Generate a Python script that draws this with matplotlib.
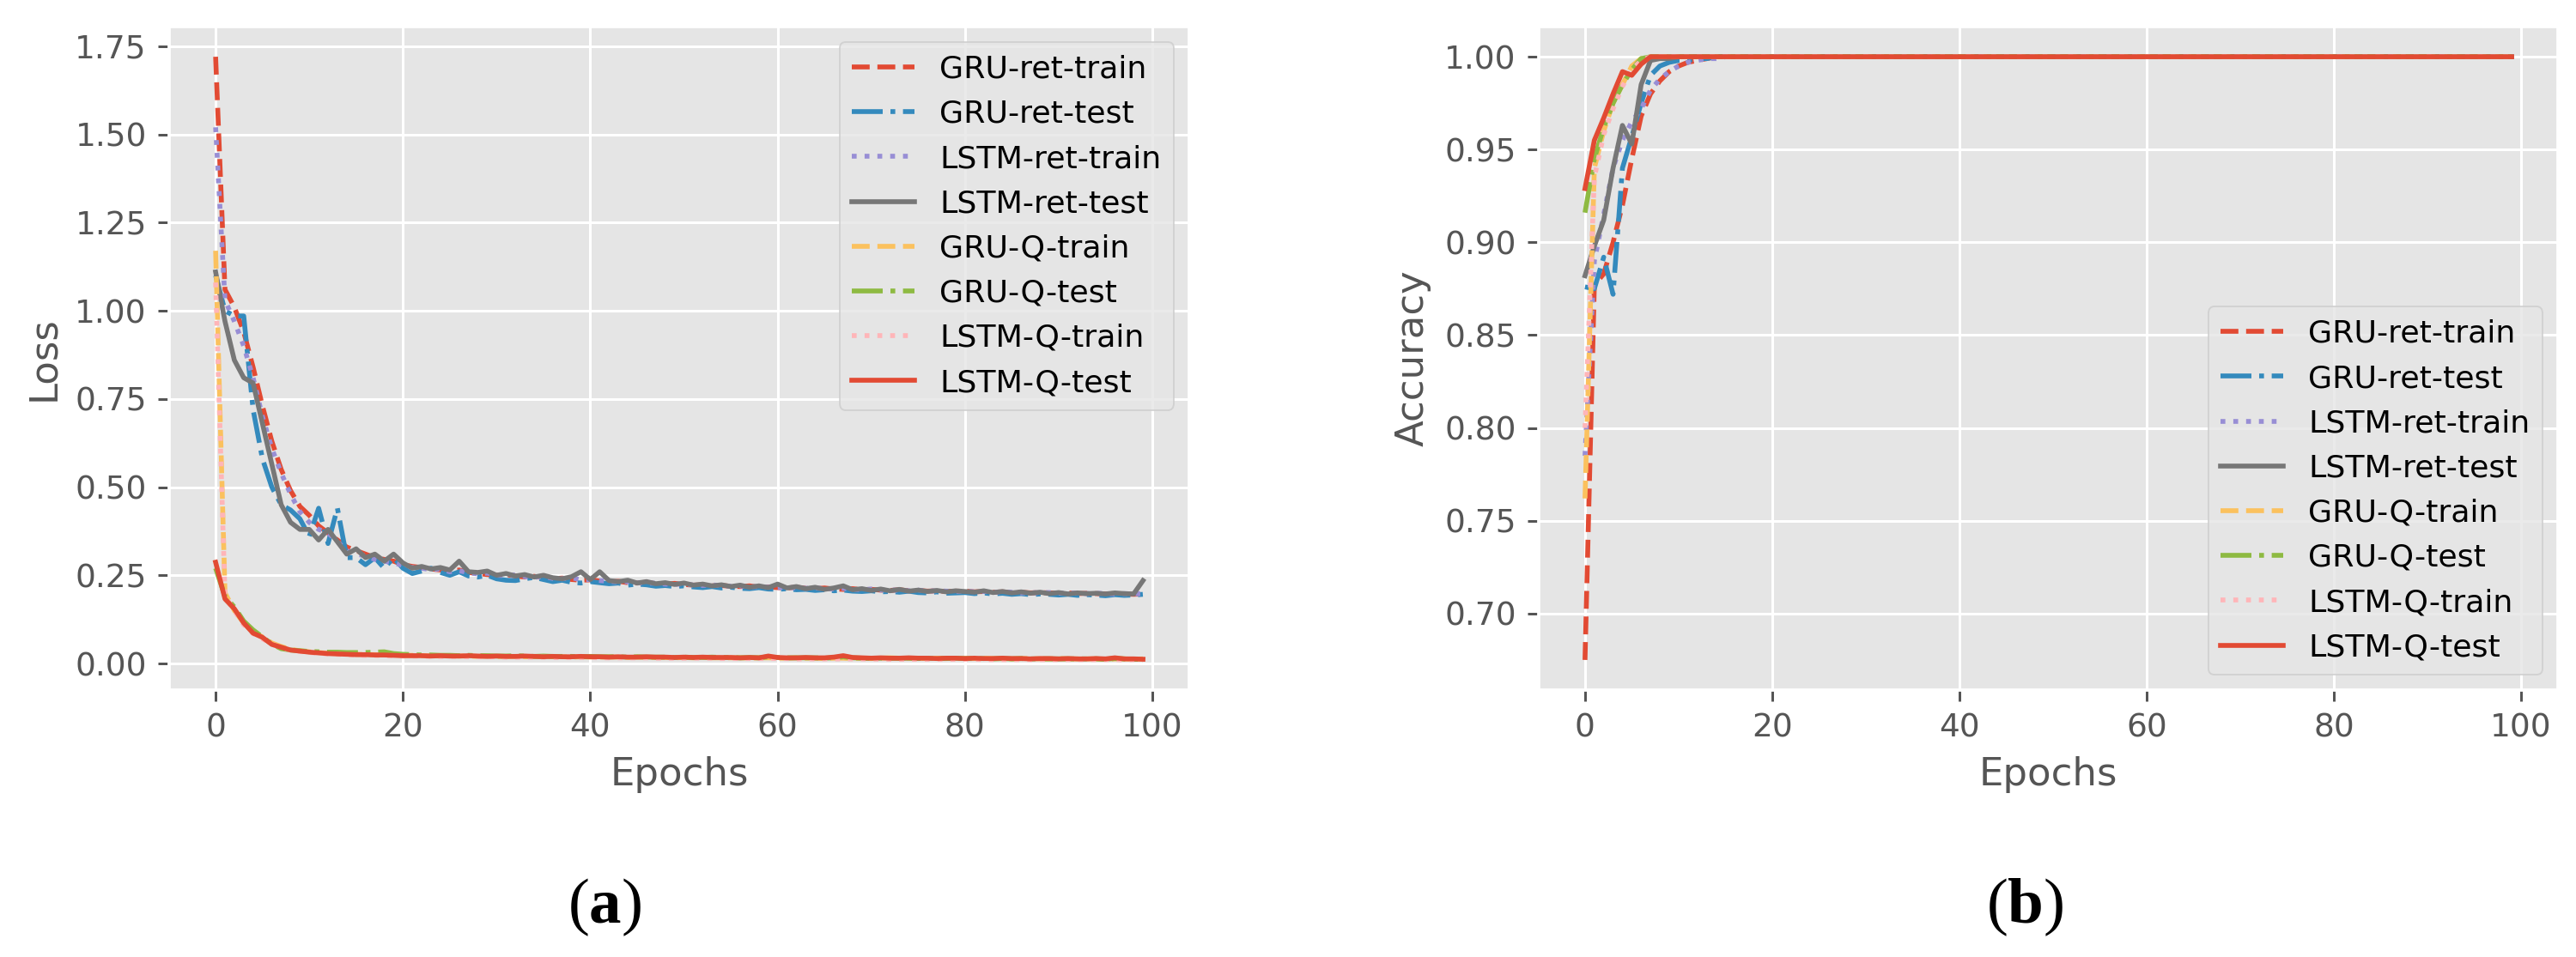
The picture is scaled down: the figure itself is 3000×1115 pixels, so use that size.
import matplotlib
matplotlib.use("Agg")
import matplotlib.pyplot as plt

plt.style.use("ggplot")
plt.rcParams["mathtext.fontset"] = "custom"
plt.rcParams["mathtext.bf"] = "Liberation Serif:bold"
plt.rcParams["legend.fontsize"] = 9.7

epochs = list(range(100))
names = ["GRU-ret-train", "GRU-ret-test", "LSTM-ret-train", "LSTM-ret-test",
         "GRU-Q-train", "GRU-Q-test", "LSTM-Q-train", "LSTM-Q-test"]

# ---- loss (a) ----
loss_gru_ret_train = [
    1.72, 1.06, 1.01, 0.94, 0.84, 0.73, 0.63, 0.55, 0.49, 0.445, 0.42, 0.39, 0.37, 0.35, 0.33, 0.32, 0.31, 0.30, 0.295, 0.29, 0.28,
    0.275, 0.272, 0.268, 0.265, 0.262, 0.265, 0.258, 0.255, 0.252, 0.25, 0.252, 0.248, 0.245, 0.247, 0.243, 0.24, 0.242, 0.238, 0.236, 0.237,
    0.234, 0.232, 0.233, 0.229, 0.228, 0.23, 0.226, 0.225, 0.227, 0.224, 0.222, 0.223, 0.22, 0.221, 0.219, 0.218, 0.22, 0.216, 0.217, 0.215,
    0.214, 0.216, 0.213, 0.212, 0.214, 0.211, 0.21, 0.212, 0.209, 0.21, 0.208, 0.207, 0.209, 0.206, 0.207, 0.205, 0.206, 0.204, 0.205, 0.205,
    0.203, 0.204, 0.202, 0.203, 0.201, 0.202, 0.2, 0.201, 0.2, 0.199, 0.2, 0.198, 0.199, 0.198, 0.197, 0.198, 0.197, 0.196, 0.197]
loss_gru_ret_test = [
    1.10, 1.00, 0.985, 0.985, 0.72, 0.58, 0.50, 0.45, 0.435, 0.41, 0.36, 0.44, 0.34, 0.44, 0.30, 0.30, 0.28, 0.30, 0.27, 0.30, 0.27,
    0.255, 0.262, 0.27, 0.258, 0.25, 0.26, 0.248, 0.245, 0.25, 0.24, 0.236, 0.235, 0.24, 0.244, 0.238, 0.232, 0.236, 0.23, 0.228, 0.232,
    0.229, 0.226, 0.228, 0.222, 0.225, 0.223, 0.219, 0.221, 0.218, 0.22, 0.217, 0.215, 0.218, 0.214, 0.216, 0.213, 0.212, 0.215, 0.211, 0.21,
    0.212, 0.209, 0.21, 0.207, 0.209, 0.206, 0.208, 0.205, 0.204, 0.206, 0.203, 0.204, 0.202, 0.205, 0.201, 0.2, 0.203, 0.199, 0.2, 0.201,
    0.198, 0.2, 0.197, 0.199, 0.196, 0.198, 0.195, 0.197, 0.196, 0.194, 0.196, 0.193, 0.195, 0.194, 0.192, 0.195, 0.193, 0.194, 0.196]
loss_lstm_ret_train = [
    1.52, 1.03, 0.97, 0.90, 0.81, 0.70, 0.61, 0.54, 0.48, 0.43, 0.40, 0.38, 0.37, 0.345, 0.32, 0.31, 0.305, 0.295, 0.29, 0.285, 0.278,
    0.272, 0.27, 0.266, 0.268, 0.26, 0.263, 0.257, 0.254, 0.256, 0.25, 0.249, 0.251, 0.246, 0.244, 0.247, 0.241, 0.24, 0.243, 0.237, 0.238,
    0.235, 0.233, 0.231, 0.232, 0.229, 0.227, 0.228, 0.225, 0.224, 0.226, 0.222, 0.221, 0.223, 0.22, 0.219, 0.22, 0.217, 0.218, 0.216, 0.215,
    0.216, 0.214, 0.213, 0.214, 0.212, 0.211, 0.213, 0.21, 0.209, 0.211, 0.208, 0.209, 0.207, 0.206, 0.208, 0.205, 0.206, 0.205, 0.204, 0.205,
    0.203, 0.204, 0.202, 0.203, 0.202, 0.2, 0.201, 0.2, 0.201, 0.199, 0.2, 0.199, 0.198, 0.199, 0.198, 0.197, 0.198, 0.197, 0.198]
loss_lstm_ret_test = [
    1.11, 0.97, 0.86, 0.81, 0.795, 0.68, 0.565, 0.45, 0.40, 0.38, 0.38, 0.35, 0.38, 0.345, 0.31, 0.325, 0.30, 0.31, 0.29, 0.31, 0.285,
    0.27, 0.275, 0.268, 0.272, 0.265, 0.29, 0.26, 0.258, 0.262, 0.25, 0.255, 0.248, 0.252, 0.245, 0.25, 0.243, 0.24, 0.246, 0.26, 0.238,
    0.26, 0.235, 0.232, 0.236, 0.228, 0.232, 0.226, 0.229, 0.224, 0.228, 0.222, 0.225, 0.22, 0.223, 0.218, 0.222, 0.216, 0.22, 0.215, 0.225,
    0.214, 0.218, 0.212, 0.216, 0.21, 0.214, 0.22, 0.209, 0.212, 0.207, 0.211, 0.206, 0.21, 0.205, 0.208, 0.204, 0.207, 0.203, 0.206, 0.204,
    0.202, 0.206, 0.201, 0.204, 0.2, 0.203, 0.199, 0.202, 0.198, 0.201, 0.197, 0.2, 0.198, 0.199, 0.197, 0.2, 0.198, 0.197, 0.235]
loss_gru_q_train = [
    1.17, 0.20, 0.15, 0.115, 0.09, 0.075, 0.058, 0.048, 0.04, 0.036, 0.033, 0.031, 0.029, 0.028, 0.027, 0.026, 0.025, 0.025, 0.024, 0.024, 0.023,
    0.023, 0.022, 0.022, 0.021, 0.022, 0.021, 0.021, 0.02, 0.021, 0.02,
    0.02, 0.02, 0.019, 0.02, 0.019, 0.019, 0.019, 0.018, 0.019, 0.018,
    0.018, 0.018, 0.018, 0.017, 0.018, 0.017, 0.017, 0.017, 0.016, 0.017,
    0.016, 0.017, 0.016, 0.016, 0.016, 0.016, 0.015, 0.016, 0.016, 0.015,
    0.015, 0.016, 0.015, 0.015, 0.014, 0.015, 0.015, 0.014, 0.015, 0.014,
    0.015, 0.016, 0.015, 0.015, 0.015, 0.014, 0.015, 0.015, 0.014, 0.014,
    0.014, 0.015, 0.014, 0.014, 0.013, 0.014, 0.014, 0.013, 0.013, 0.014,
    0.013, 0.013, 0.013, 0.013, 0.012, 0.013, 0.013, 0.012, 0.013]
loss_gru_q_test = [
    0.27, 0.19, 0.16, 0.12, 0.095, 0.075, 0.055, 0.042, 0.038, 0.036, 0.034, 0.033, 0.032, 0.032, 0.031, 0.031, 0.031, 0.032, 0.033, 0.028, 0.026,
    0.025, 0.024, 0.024, 0.023, 0.023, 0.022, 0.023, 0.022, 0.022, 0.021,
    0.021, 0.022, 0.021, 0.02, 0.021, 0.02, 0.02, 0.02, 0.019, 0.02,
    0.019, 0.019, 0.019, 0.018, 0.019, 0.018, 0.018, 0.018, 0.017, 0.018,
    0.017, 0.017, 0.018, 0.017, 0.017, 0.016, 0.017, 0.016, 0.019, 0.017,
    0.016, 0.016, 0.016, 0.016, 0.015, 0.016, 0.019, 0.016, 0.015, 0.015,
    0.015, 0.015, 0.015, 0.015, 0.014, 0.015, 0.014, 0.014, 0.015, 0.014,
    0.014, 0.014, 0.013, 0.014, 0.013, 0.014, 0.013, 0.013, 0.013, 0.013,
    0.013, 0.013, 0.013, 0.013, 0.012, 0.014, 0.013, 0.012, 0.012]
loss_lstm_q_train = [
    1.08, 0.19, 0.15, 0.11, 0.085, 0.07, 0.055, 0.045, 0.038, 0.034, 0.031, 0.029, 0.027, 0.026, 0.025, 0.024, 0.023, 0.023, 0.022, 0.022, 0.021,
    0.021, 0.021, 0.02, 0.02, 0.02, 0.02, 0.019, 0.019, 0.019, 0.019,
    0.018, 0.018, 0.018, 0.018, 0.018, 0.017, 0.017, 0.017, 0.017, 0.017,
    0.016, 0.016, 0.016, 0.016, 0.016, 0.016, 0.015, 0.015, 0.015, 0.015,
    0.015, 0.015, 0.015, 0.014, 0.014, 0.014, 0.014, 0.014, 0.014, 0.014,
    0.014, 0.013, 0.013, 0.013, 0.013, 0.013, 0.013, 0.013, 0.013, 0.013,
    0.012, 0.012, 0.012, 0.012, 0.012, 0.012, 0.012, 0.012, 0.012, 0.012,
    0.012, 0.011, 0.011, 0.011, 0.011, 0.011, 0.011, 0.011, 0.011, 0.011,
    0.011, 0.011, 0.011, 0.011, 0.011, 0.011, 0.01, 0.011, 0.01]
loss_lstm_q_test = [
    0.287, 0.183, 0.155, 0.115, 0.086, 0.074, 0.054, 0.046, 0.038, 0.035, 0.032, 0.030, 0.028, 0.027, 0.026, 0.025, 0.025, 0.024, 0.024, 0.023, 0.022,
    0.022, 0.022, 0.021, 0.022, 0.021, 0.021, 0.022, 0.021, 0.02, 0.021,
    0.02, 0.02, 0.021, 0.02, 0.019, 0.02, 0.019, 0.019, 0.02, 0.019,
    0.019, 0.018, 0.019, 0.018, 0.018, 0.019, 0.018, 0.018, 0.017, 0.018,
    0.017, 0.018, 0.017, 0.017, 0.017, 0.016, 0.017, 0.016, 0.021, 0.017,
    0.016, 0.016, 0.017, 0.016, 0.016, 0.018, 0.022, 0.017, 0.016, 0.015,
    0.016, 0.015, 0.015, 0.016, 0.015, 0.015, 0.014, 0.015, 0.015, 0.014,
    0.015, 0.014, 0.014, 0.015, 0.014, 0.014, 0.013, 0.014, 0.014, 0.013,
    0.014, 0.013, 0.013, 0.014, 0.013, 0.016, 0.013, 0.013, 0.012]

# ---- accuracy (b) ----
acc_gru_ret_train = [0.675, 0.877, 0.883, 0.90, 0.92, 0.945, 0.968, 0.98, 0.987, 0.992,
                     0.995, 0.997, 0.998, 0.999, 1.0] + [1.0] * 85
acc_gru_ret_test = [0.876, 0.875, 0.892, 0.872, 0.94, 0.957, 0.975, 0.99, 0.995, 0.997,
                    0.998, 0.998, 0.999, 0.999, 1.0] + [1.0] * 85
acc_lstm_ret_train = [0.785, 0.89, 0.915, 0.94, 0.955, 0.965, 0.972, 0.982, 0.988, 0.992,
                      0.995, 0.997, 0.998, 0.999, 0.999, 1.0] + [1.0] * 84
acc_lstm_ret_test = [0.882, 0.898, 0.912, 0.94, 0.963, 0.953, 0.985, 0.998, 0.999, 0.999,
                     1.0] + [1.0] * 89
acc_gru_q_train = [0.762, 0.94, 0.96, 0.975, 0.985, 0.995, 0.999, 1.0] + [1.0] * 92
acc_gru_q_test = [0.916, 0.945, 0.962, 0.975, 0.985, 0.993, 0.999, 1.0] + [1.0] * 92
acc_lstm_q_train = [0.80, 0.935, 0.958, 0.972, 0.984, 0.993, 0.998, 1.0] + [1.0] * 92
acc_lstm_q_test = [0.929, 0.955, 0.967, 0.980, 0.992, 0.990, 0.996, 1.0] + [1.0] * 92

loss_series = [loss_gru_ret_train, loss_gru_ret_test, loss_lstm_ret_train, loss_lstm_ret_test,
               loss_gru_q_train, loss_gru_q_test, loss_lstm_q_train, loss_lstm_q_test]
acc_series = [acc_gru_ret_train, acc_gru_ret_test, acc_lstm_ret_train, acc_lstm_ret_test,
              acc_gru_q_train, acc_gru_q_test, acc_lstm_q_train, acc_lstm_q_test]
styles = ["--", "-.", ":", "-"] * 2

fig = plt.figure(figsize=(11.1112, 4.1297), dpi=270)
ax1 = fig.add_axes([0.0657, 0.2789, 0.396, 0.6933])
ax2 = fig.add_axes([0.5973, 0.2789, 0.3957, 0.6933])

for name, ys, ls in zip(names, loss_series, styles):
    ax1.plot(epochs, ys, ls, label=name)
ax1.set_xlabel("Epochs")
ax1.set_ylabel("Loss")
ax1.legend(loc="upper right")

for name, ys, ls in zip(names, acc_series, styles):
    ax2.plot(epochs, ys, ls, label=name)
ax2.set_xlabel("Epochs")
ax2.set_ylabel("Accuracy")
ax2.legend(loc="lower right")

fig.text(0.2347, 0.052, r"($\mathbf{a}$)", family="Liberation Serif", fontsize=20,
         ha="center", va="center", color="black")
fig.text(0.786, 0.052, r"($\mathbf{b}$)", family="Liberation Serif", fontsize=20,
         ha="center", va="center", color="black")

fig.savefig("out.png", dpi=270)
